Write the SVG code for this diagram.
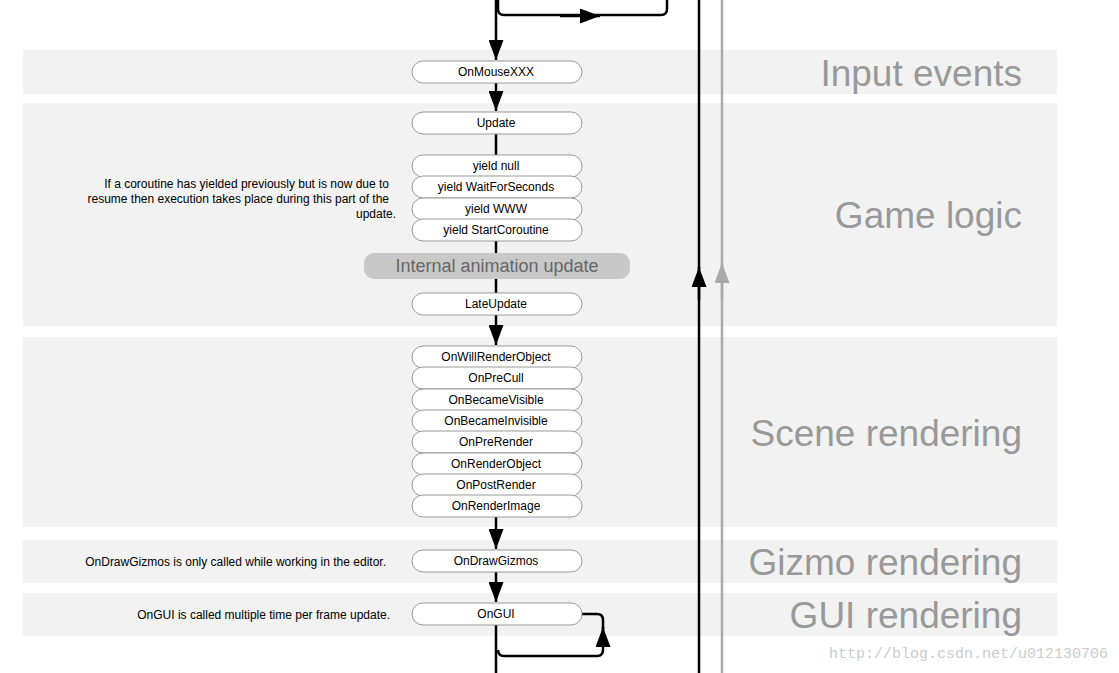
<svg xmlns="http://www.w3.org/2000/svg" width="1119" height="673" viewBox="0 0 1119 673">
<style>
.band{fill:#f2f2f2}
.n rect{fill:#fff;stroke:#999;stroke-width:1}
.n text{font-family:"Liberation Sans",Arial,sans-serif;font-size:12px;fill:#000;text-anchor:middle}
.lbl{font-family:"Liberation Sans",Arial,sans-serif;font-size:37px;fill:#999;text-anchor:end}
.note{font-family:"Liberation Sans",Arial,sans-serif;font-size:12px;fill:#000;text-anchor:end}
.c{fill:none;stroke:#000;stroke-width:2.5}
</style>
<defs>
<marker id="a" markerWidth="8" markerHeight="6" refX="8" refY="3" orient="auto" markerUnits="strokeWidth"><path d="M0,0L8,3L0,6z" fill="#000"/></marker>
<marker id="g" markerWidth="8" markerHeight="6" refX="8" refY="3" orient="auto" markerUnits="strokeWidth"><path d="M0,0L8,3L0,6z" fill="#aaa"/></marker>
</defs>
<rect width="1119" height="673" fill="#fff"/>
<rect class="band" x="23" y="50" width="1034" height="44"/>
<rect class="band" x="23" y="103" width="1034" height="223"/>
<rect class="band" x="23" y="337" width="1034" height="190"/>
<rect class="band" x="23" y="540" width="1034" height="43"/>
<rect class="band" x="23" y="593" width="1034" height="43"/>
<text class="lbl" x="1022" y="86">Input events</text>
<text class="lbl" x="1022" y="228">Game logic</text>
<text class="lbl" x="1022" y="446">Scene rendering</text>
<text class="lbl" x="1022" y="575">Gizmo rendering</text>
<text class="lbl" x="1022" y="628">GUI rendering</text>
<text class="note" x="389" y="188">If a coroutine has yielded previously but is now due to</text>
<text class="note" x="389" y="203">resume then execution takes place during this part of the</text>
<text class="note" x="396" y="218">update.</text>
<text class="note" x="386" y="566">OnDrawGizmos is only called while working in the editor.</text>
<text class="note" x="390" y="619">OnGUI is called multiple time per frame update.</text>
<g id="connectors">
<path class="c" d="M496,0V60" marker-end="url(#a)"/>
<path class="c" d="M498,0V9Q498,15 504,15H661Q667,15 667,9V0"/>
<path class="c" d="M560,16H600" marker-end="url(#a)"/>
<path class="c" d="M496,83V111" marker-end="url(#a)"/>
<path class="c" d="M496,134V155M496,241V253M496,279V293"/>
<path class="c" d="M496,315V345" marker-end="url(#a)"/>
<path class="c" d="M496,517V549" marker-end="url(#a)"/>
<path class="c" d="M496,572V602" marker-end="url(#a)"/>
<path class="c" d="M496,625V673"/>
<path class="c" d="M498,650Q498,656 504,656H597Q603,656 603,650V620Q603,614 597,614H582"/>
<path class="c" d="M603,645V627" marker-end="url(#a)"/>
<path class="c" d="M699,673V0"/>
<path class="c" d="M699,300V267" marker-end="url(#a)"/>
<path d="M722,673V0" fill="none" stroke="#aaa" stroke-width="2.5"/>
<path d="M722,300V263" fill="none" stroke="#aaa" stroke-width="2.5" marker-end="url(#g)"/>
</g>
<g id="n1" class="n"><rect x="412" y="61" width="170" height="22" rx="11"/><text x="496" y="76">OnMouseXXX</text></g>
<g id="n2" class="n"><rect x="412" y="112" width="170" height="22" rx="11"/><text x="496" y="127">Update</text></g>
<g id="n3" class="n"><rect x="412" y="155" width="170" height="22" rx="11"/><text x="496" y="170">yield null</text></g>
<g id="n4" class="n"><rect x="412" y="176" width="170" height="22" rx="11"/><text x="496" y="191">yield WaitForSeconds</text></g>
<g id="n5" class="n"><rect x="412" y="198" width="170" height="22" rx="11"/><text x="496" y="213">yield WWW</text></g>
<g id="n6" class="n"><rect x="412" y="219" width="170" height="22" rx="11"/><text x="496" y="234">yield StartCoroutine</text></g>
<g id="n7"><rect x="364" y="253" width="266" height="26" rx="10" fill="#c8c8c8"/><text x="497" y="272" font-family="Liberation Sans,Arial,sans-serif" font-size="18" fill="#666" text-anchor="middle">Internal animation update</text></g>
<g id="n8" class="n"><rect x="412" y="293" width="170" height="22" rx="11"/><text x="496" y="308">LateUpdate</text></g>
<g id="n9" class="n"><rect x="412" y="346" width="170" height="22" rx="11"/><text x="496" y="361">OnWillRenderObject</text></g>
<g id="n10" class="n"><rect x="412" y="367" width="170" height="22" rx="11"/><text x="496" y="382">OnPreCull</text></g>
<g id="n11" class="n"><rect x="412" y="389" width="170" height="22" rx="11"/><text x="496" y="404">OnBecameVisible</text></g>
<g id="n12" class="n"><rect x="412" y="410" width="170" height="22" rx="11"/><text x="496" y="425">OnBecameInvisible</text></g>
<g id="n13" class="n"><rect x="412" y="431" width="170" height="22" rx="11"/><text x="496" y="446">OnPreRender</text></g>
<g id="n14" class="n"><rect x="412" y="453" width="170" height="22" rx="11"/><text x="496" y="468">OnRenderObject</text></g>
<g id="n15" class="n"><rect x="412" y="474" width="170" height="22" rx="11"/><text x="496" y="489">OnPostRender</text></g>
<g id="n16" class="n"><rect x="412" y="495" width="170" height="22" rx="11"/><text x="496" y="510">OnRenderImage</text></g>
<g id="n17" class="n"><rect x="412" y="550" width="170" height="22" rx="11"/><text x="496" y="565">OnDrawGizmos</text></g>
<g id="n18" class="n"><rect x="412" y="603" width="170" height="22" rx="11"/><text x="496" y="618">OnGUI</text></g>
<text x="1108" y="658" font-family="Liberation Mono,monospace" font-size="15" fill="#ccc" text-anchor="end">http://blog.csdn.net/u012130706</text>
</svg>
